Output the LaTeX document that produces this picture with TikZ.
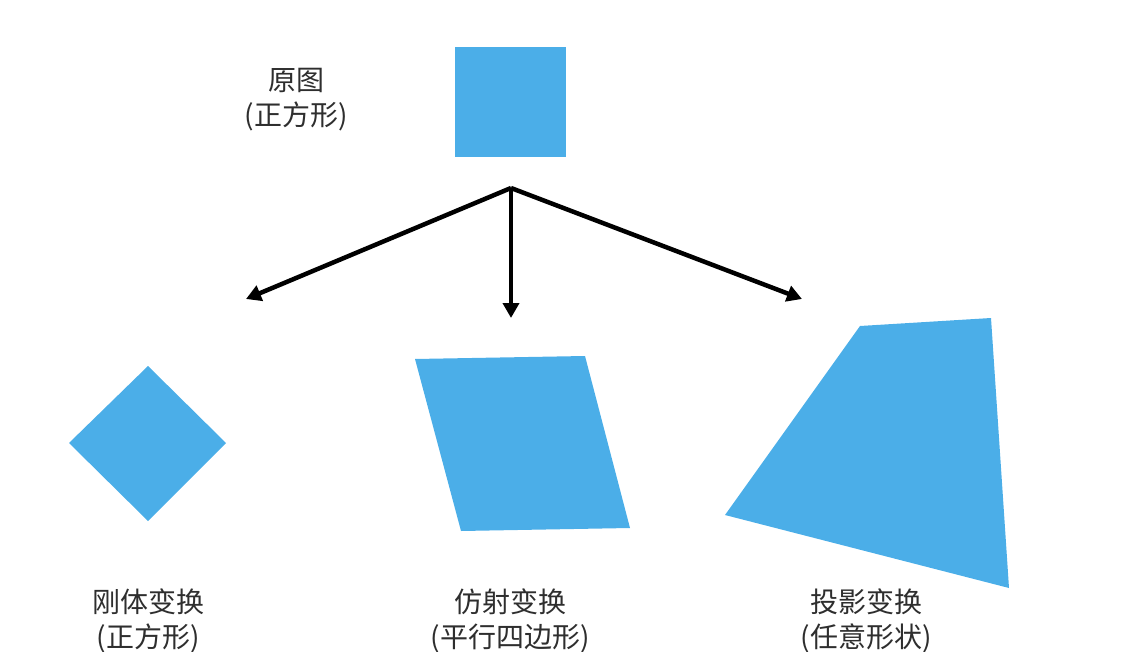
\documentclass[tikz,border=0pt]{standalone}
\usepackage{fontspec}
\setmainfont{Noto Sans CJK SC}
\usetikzlibrary{arrows.meta,positioning}
\definecolor{vlakblauw}{HTML}{4BAEE8}
\definecolor{tekstgrijs}{HTML}{2E2E2E}
\begin{document}
\begin{tikzpicture}[x=1pt,y=-1pt]
		\useasboundingbox (0,0) rectangle (1126,652);
		\tikzset{
			vlak/.style={fill=vlakblauw, draw=none},
			label/.style={align=center, text=tekstgrijs, font=\fontsize{28}{35}\selectfont},
			pijl/.style={line width=4.5pt, -{Triangle[length=15pt,width=16pt]}, black}
		}

		% Origineel (vierkant)
		\node[vlak, minimum width=111pt, minimum height=110pt, inner sep=0pt] (orig) at (510.5,102) {};
		\node[label] (origlabel) at (296,100) {原图\\(正方形)};

		% Splitsing van de pijlen
		\coordinate (split) at (511,188);
		\coordinate (rigide) at (246,299);
		\coordinate (affien) at (511,318);
		\coordinate (projectief) at (802,299);
		\draw[pijl] (split) -- (rigide);
		\draw[pijl] (split) -- (affien);
		\draw[pijl] (split) -- (projectief);

		% Getransformeerde vormen
		\fill[vlakblauw] (69,443) -- (148,366) -- (226,443) -- (148,521) -- cycle;
		\fill[vlakblauw] (415,359) -- (585,356) -- (630,528) -- (461,531) -- cycle;
		\fill[vlakblauw] (860,326) -- (991,318) -- (1009,588) -- (725,515) -- cycle;

		% Onderschriften
		\node[label] (rigidelabel) at (148,621) {刚体变换\\(正方形)};
		\node[label] (affienlabel) at (510,621) {仿射变换\\(平行四边形)};
		\node[label] (projlabel) at (866,621) {投影变换\\(任意形状)};

	\end{tikzpicture}
\end{document}
